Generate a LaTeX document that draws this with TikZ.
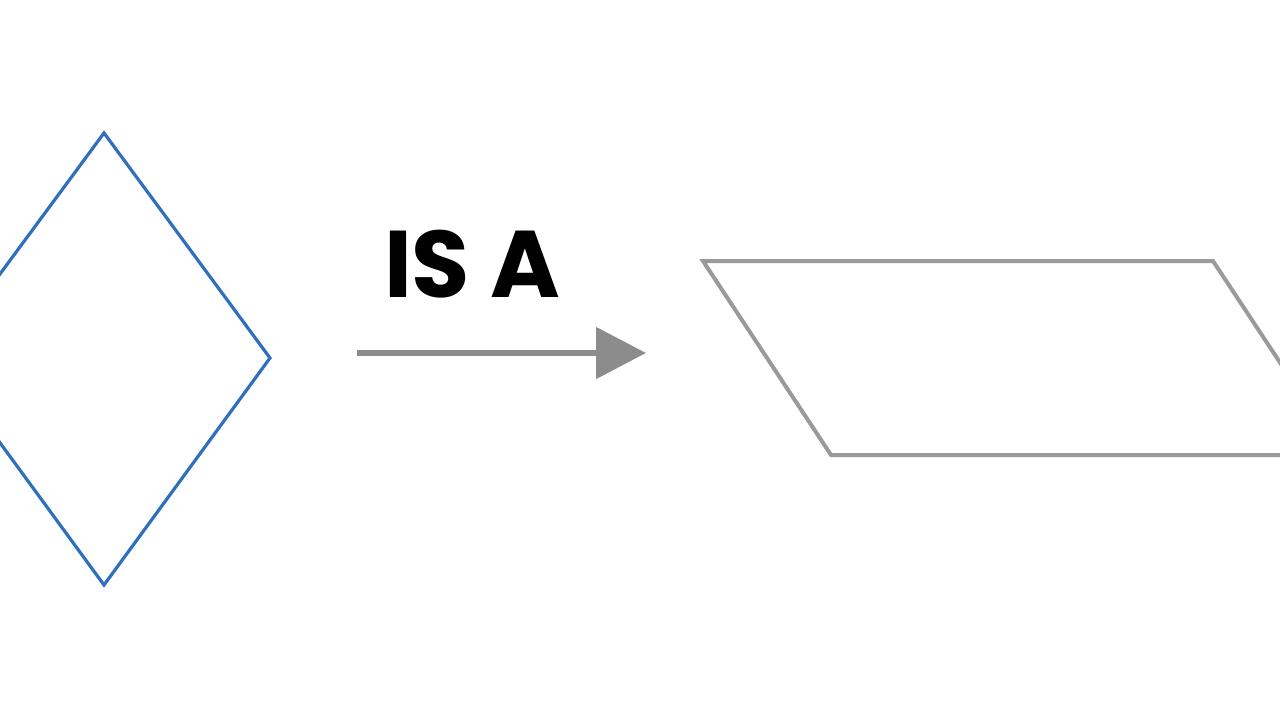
\documentclass[tikz,border=0pt]{standalone}
\usepackage{fontspec}
\setmainfont{Poppins}
\usepackage{tikz}
\usetikzlibrary{arrows.meta,positioning}
\definecolor{isablue}{HTML}{2F6FBD}
\definecolor{isagray}{HTML}{8C8C8C}
\definecolor{boxgray}{HTML}{9A9A9A}

\begin{document}
\begin{tikzpicture}[x=0.75pt, y=-0.75pt]
\useasboundingbox (0,0) rectangle (1280,720);
\clip (0,0) rectangle (1280,720);
\tikzstyle{every node} = [inner sep=0pt, outer sep=0pt]
% diamond on the left
\coordinate (dn) at (104,133);
\coordinate (de) at (270,358);
\coordinate (ds) at (104,585);
\coordinate (dw) at (-62,358);
\draw[isablue, line width=2.4pt, line join=miter] (dn) -- (de) -- (ds) -- (dw) -- cycle;
% parallelogram on the right
\coordinate (pnw) at (703,261);
\coordinate (pne) at (1213,261);
\coordinate (pse) at (1341,455);
\coordinate (psw) at (831,455);
\draw[boxgray, line width=3pt, line join=miter] (pnw) -- (pne) -- (pse) -- (psw) -- cycle;
% the arrow and its label
\coordinate (from) at (357,353);
\coordinate (to) at (646,353);
\draw[-{Triangle[length=37.5pt, width=38pt]}, isagray, line width=4.5pt] (from) -- (to);
\node (isa) at (472,264) {\fontsize{71}{71}\selectfont\bfseries IS A};
\end{tikzpicture}
\end{document}
